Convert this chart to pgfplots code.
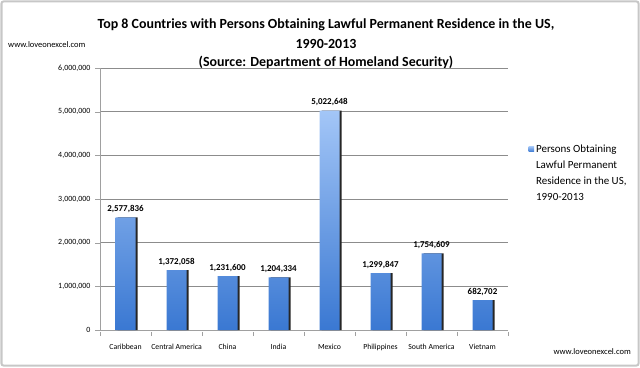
\documentclass[border=0pt]{standalone}
\usepackage{pgfplots}
\pgfplotsset{compat=1.18}
\usepackage{pgfplotstable}
\usepackage{fontspec}
\setmainfont{Carlito}
\definecolor{barTop}{HTML}{A3C6F7}
\definecolor{barBot}{HTML}{3A78D2}
\definecolor{gridc}{HTML}{8C8C8C}
\definecolor{axisc}{HTML}{A0A0A0}
\pgfplotstableread{
x y label
0 2577836 2,577,836
1 1372058 1,372,058
2 1231600 1,231,600
3 1204334 1,204,334
4 5022648 5,022,648
5 1299847 1,299,847
6 1754609 1,754,609
7 682702 682,702
}\datatable
\begin{document}
\begin{tikzpicture}[x=1bp,y=1bp]
\draw[color=black!22, line width=2bp, rounded corners=2bp] (1.5,1.5) rectangle (638.5,365.5);
\path[use as bounding box] (0,0) rectangle (640,367);
\node[font=\fontsize{14}{16}\selectfont\bfseries] at (326,342) {Top 8 Countries with Persons Obtaining Lawful Permanent Residence in the US,};
\node[font=\fontsize{14}{16}\selectfont\bfseries] at (326,323) {1990-2013};
\node[font=\fontsize{14}{16}\selectfont\bfseries] at (326,305) {(Source: Department of Homeland Security)};
\node[font=\fontsize{8.5}{10}\selectfont, anchor=west, inner sep=0] at (8,322) {www.loveonexcel.com};
\node[font=\fontsize{8.5}{10}\selectfont, anchor=east, inner sep=0] at (631,15) {www.loveonexcel.com};
\begin{axis}[
  at={(100bp,37bp)}, anchor=south west,
  scale only axis, width=408bp, height=262bp,
  xmin=-0.5, xmax=7.5, ymin=0, ymax=6000000,
  ytick={0,1000000,2000000,3000000,4000000,5000000,6000000},
  scaled y ticks=false,
  yticklabel style={/pgf/number format/fixed, /pgf/number format/precision=0, /pgf/number format/1000 sep={,}, font=\fontsize{8}{9}\selectfont, xshift=-1bp},
  /pgf/number format/assume math mode=true,
  xtick={0,...,7},
  xticklabels={Caribbean,Central America,China,India,Mexico,Philippines,South America,Vietnam},
  xticklabel style={font=\fontsize{7.8}{9}\selectfont, yshift=-6bp},
  major x tick style={draw=none},
  minor xtick={-0.5,0.5,...,7.5},
  minor tick length=4bp,
  minor x tick style={axisc, yshift=-2bp},
  ytick style={axisc},
  major tick length=5bp,
  tick align=outside,
  axis x line*=bottom, axis y line*=left,
  axis line style={axisc, line width=0.8bp, -},
  ymajorgrids, grid style={gridc, line width=0.6bp},
  ybar, bar width=20bp,
  legend style={at={(1.05,0.715)}, anchor=north west, draw=none, fill=none, font=\fontsize{11}{16}\selectfont, cells={align=left}, inner sep=0pt},
  legend image code/.code={\fill[barBot!80!barTop] (0bp,21.5bp) rectangle (5.5bp,27bp);},
  clip=false,
]
\addplot[bar shift=2bp, fill=black!85, draw=none, forget plot] table[x=x,y=y] {\datatable};
\addplot[bar shift=0bp, top color=barTop, bottom color=barBot, draw=none,
  nodes near coords, point meta=explicit symbolic,
  every node near coord/.append style={font=\fontsize{9}{10}\selectfont\bfseries, yshift=1bp}]
  table[x=x,y=y,meta=label] {\datatable};
\addlegendentry{Persons Obtaining\\Lawful Permanent\\Residence in the US,\\1990-2013}
\end{axis}
\end{tikzpicture}
\end{document}
